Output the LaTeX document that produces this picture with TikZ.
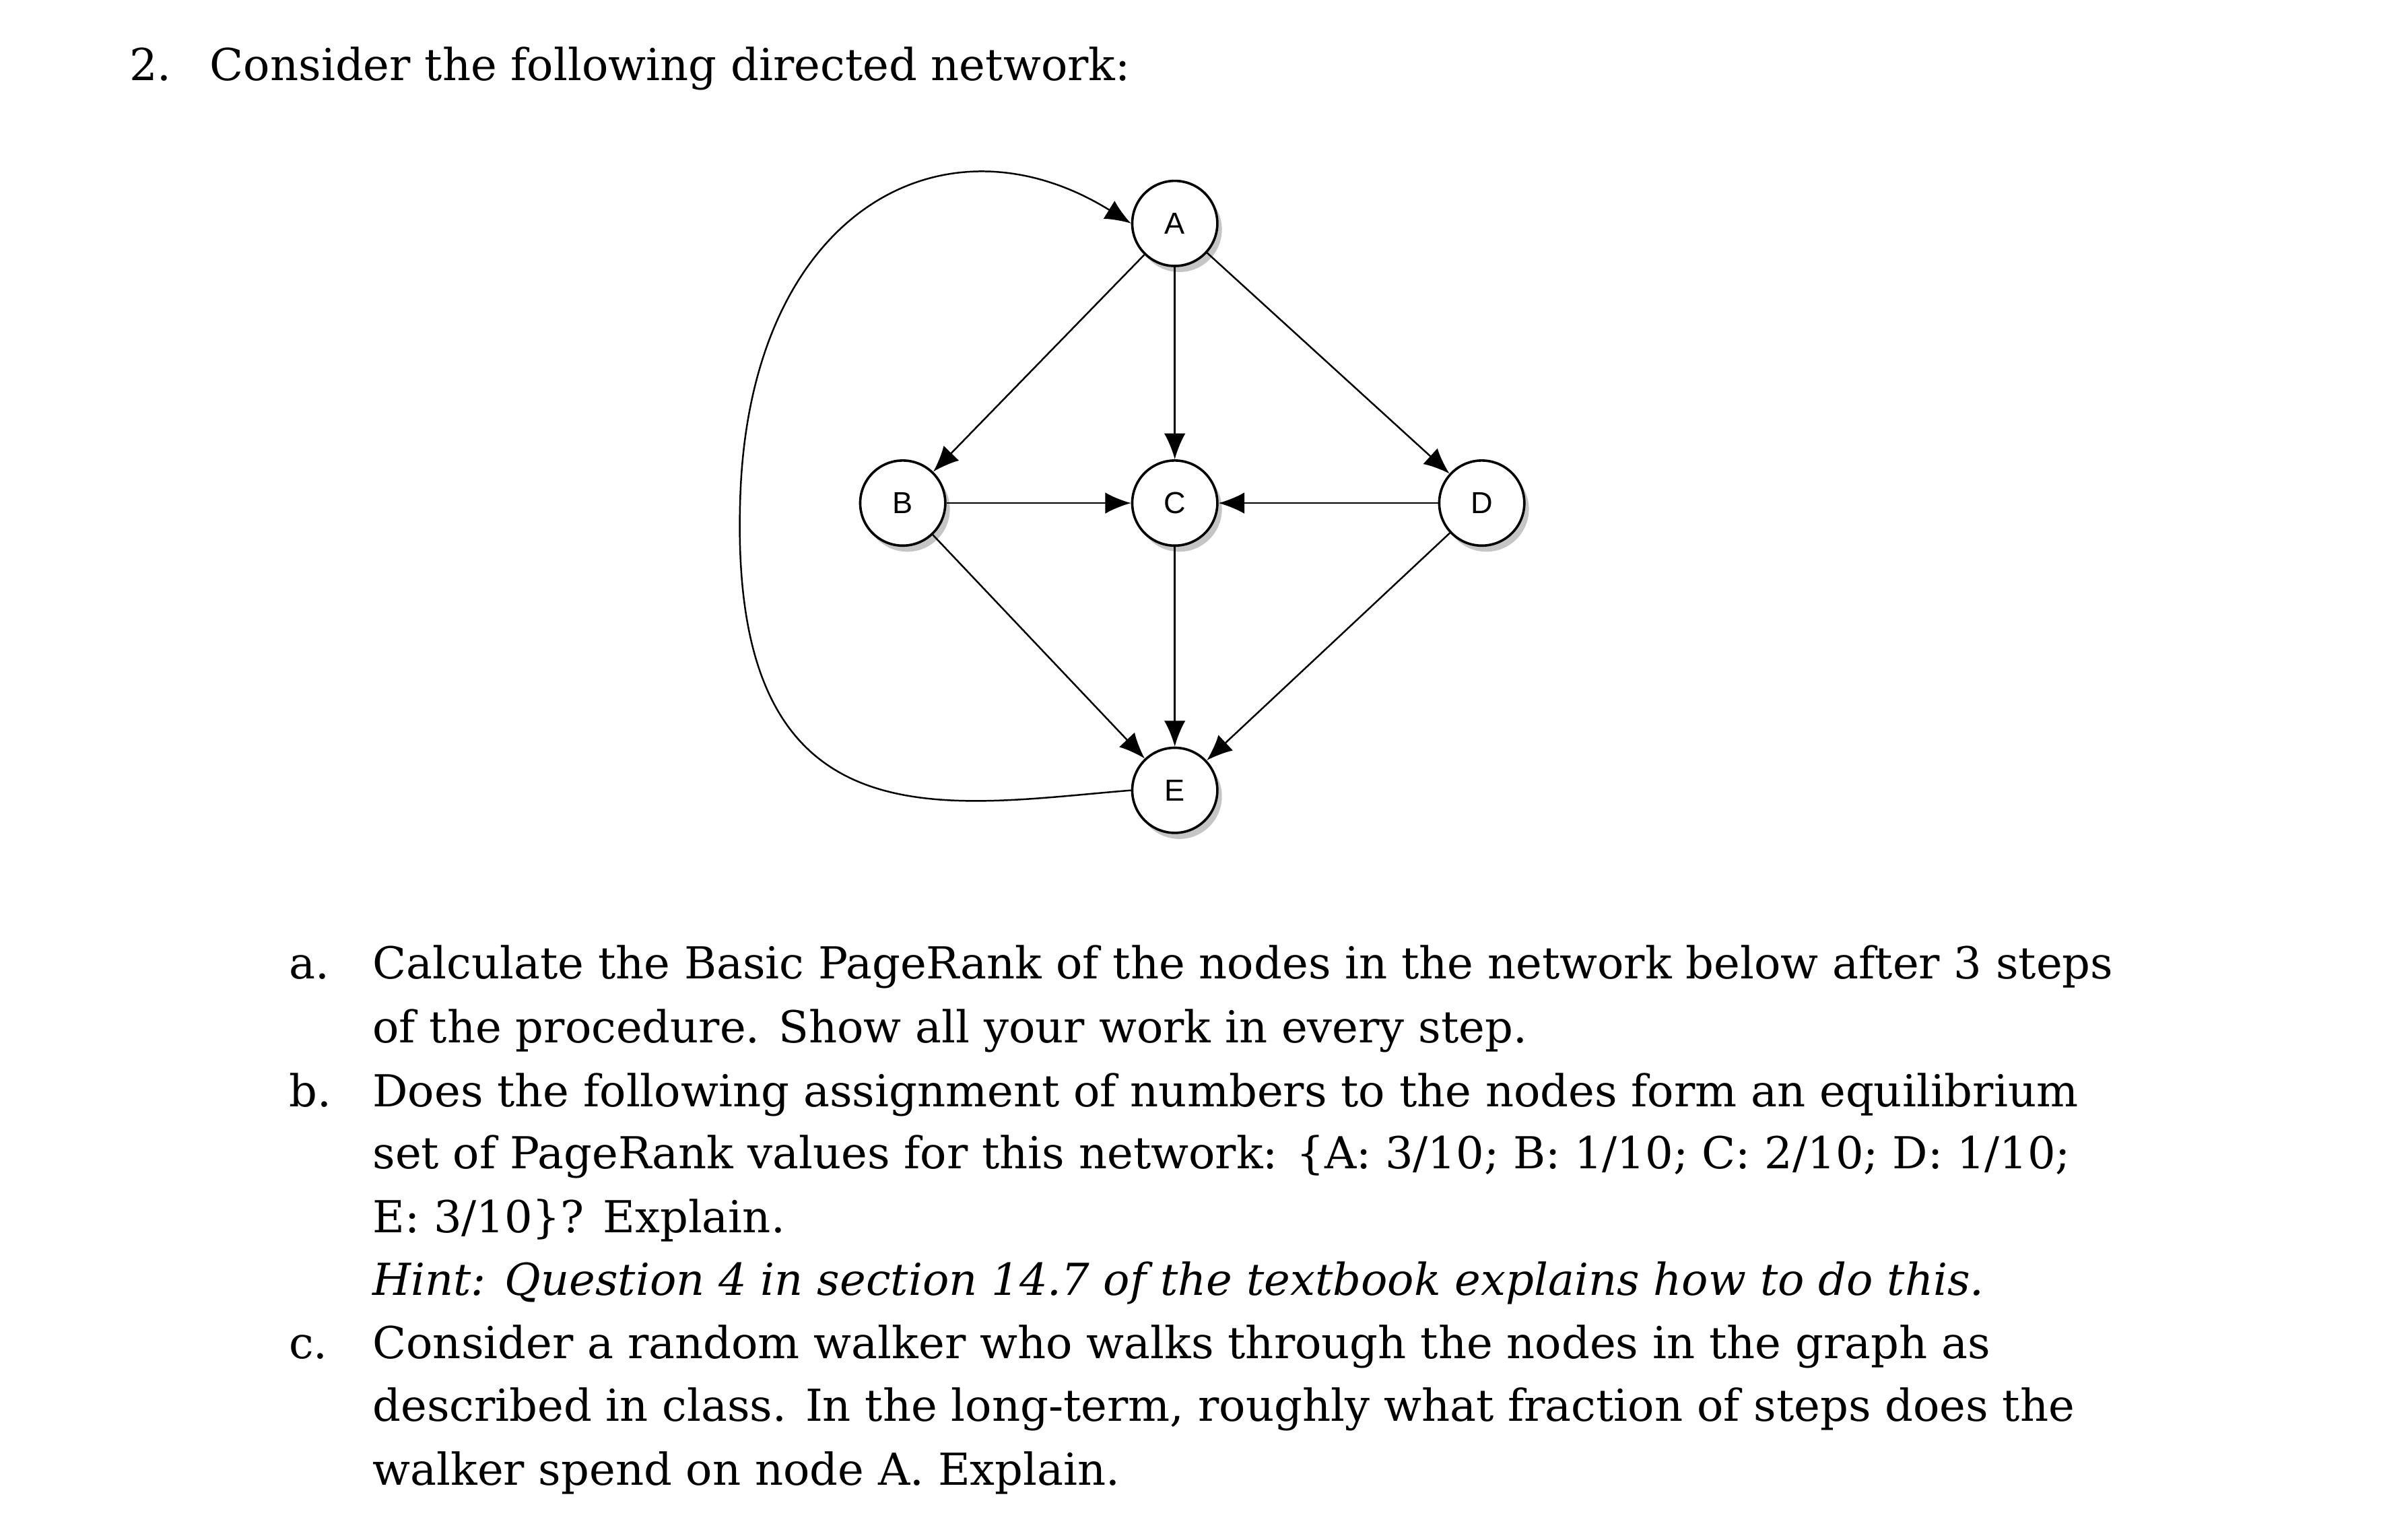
\documentclass[tikz,border=0pt]{standalone}
\usepackage{fontspec}
\setmainfont{DejaVu Serif}
\setsansfont{Liberation Sans}
\usetikzlibrary{arrows.meta,shadows}
\begin{document}
\begin{tikzpicture}[x=1pt,y=-1pt,
  vert/.style={circle,draw,line width=1.6pt,fill=white,minimum size=56pt,inner sep=0pt,font=\sffamily\fontsize{20}{22}\selectfont,drop shadow={shadow xshift=3pt,shadow yshift=-4pt,fill=black!45}},
  edge/.style={line width=1.1pt,-{Latex[length=17pt,width=14pt]}},
  txt/.style={anchor=base west,inner sep=0pt,font=\fontsize{29}{34}\selectfont}]
\useasboundingbox (0,0) rectangle (1568,1013);
\node[vert] (A) at (773,147) {A};
\node[vert] (B) at (594,331) {B};
\node[vert] (C) at (773,331) {C};
\node[vert] (D) at (975,331) {D};
\node[vert] (E) at (773,520) {E};
\draw[edge] (A) -- (B);
\draw[edge] (A) -- (C);
\draw[edge] (A) -- (D);
\draw[edge] (B) -- (C);
\draw[edge] (D) -- (C);
\draw[edge] (B) -- (E);
\draw[edge] (C) -- (E);
\draw[edge] (D) -- (E);
\draw[edge] (E.west) .. controls (620,530) and (480,560) .. (487,330) .. controls (492,140) and (620,70) .. (A.west);
\node[txt] (t0) at (85,53) {2.};
\node[txt] (t0b) at (138,53) {Consider the following directed network:};
\node[txt] (la) at (190,644) {a.};
\node[txt] (a1) at (245,644) {Calculate the Basic PageRank of the nodes in the network below after 3 steps};
\node[txt] (a2) at (245,686) {of the procedure. Show all your work in every step.};
\node[txt] (lb) at (190,728) {b.};
\node[txt] (b1) at (245,728) {Does the following assignment of numbers to the nodes form an equilibrium};
\node[txt] (b2) at (245,769) {set of PageRank values for this network: \{A: 3/10; B: 1/10; C: 2/10; D: 1/10;};
\node[txt] (b3) at (245,811) {E: 3/10\}? Explain.};
\node[txt,font=\fontsize{29}{34}\selectfont\itshape] (b4) at (245,852) {Hint: Question 4 in section 14.7 of the textbook explains how to do this.};
\node[txt] (lc) at (190,894) {c.};
\node[txt] (c1) at (245,894) {Consider a random walker who walks through the nodes in the graph as};
\node[txt] (c2) at (245,935) {described in class. In the long-term, roughly what fraction of steps does the};
\node[txt] (c3) at (245,977) {walker spend on node A. Explain.};
\end{tikzpicture}
\end{document}
